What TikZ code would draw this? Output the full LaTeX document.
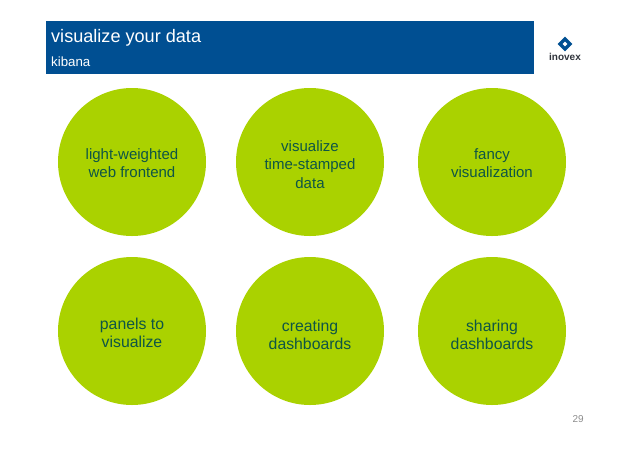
\documentclass[tikz,border=0pt]{standalone}
\usepackage{fontspec}
\setmainfont{Liberation Sans}
\usetikzlibrary{shapes.geometric}
\definecolor{bannerblue}{HTML}{004F92}
\definecolor{bubblegreen}{HTML}{AAD200}
\definecolor{bubbleink}{HTML}{0E5546}
\definecolor{pagegray}{HTML}{8C8C8C}
\definecolor{logoink}{HTML}{30343C}
\begin{document}
\begin{tikzpicture}
  [x=1pt,y=-1pt,
   bubble/.style={circle,fill=bubblegreen,minimum size=148pt,inner sep=0pt},
   bubbletext/.style={inner sep=0pt,align=center,text=bubbleink,font=\fontsize{15}{18.2}\selectfont},
   bubbletextlow/.style={bubbletext,font=\fontsize{15.8}{18.4}\selectfont}]
  \useasboundingbox (0,0) rectangle (638,451);

  \node[fill=bannerblue,minimum width=488pt,minimum height=53pt,inner sep=0pt] (banner) at (290,47.5) {};
  \node[anchor=base west,inner sep=0pt,text=white,font=\fontsize{18.1}{20}\selectfont] (title) at (51,42) {visualize your data};
  \node[anchor=base west,inner sep=0pt,text=white,font=\fontsize{13.3}{15}\selectfont] (subtitle) at (51,66) {kibana};

  \node[diamond,fill=bannerblue,minimum size=15pt,inner sep=0pt] (logo) at (565,44) {};
  \node[diamond,fill=white,minimum size=5pt,inner sep=0pt] (logohole) at (565,44) {};
  \node[anchor=base,inner sep=0pt,text=logoink,font=\bfseries\fontsize{10}{12}\selectfont] (logotext) at (565,60) {inovex};

  \node[bubble] (b1) at (132,162) {};
  \node[bubble] (b2) at (310,162) {};
  \node[bubble] (b3) at (492,162) {};
  \node[bubble] (b4) at (132,331) {};
  \node[bubble] (b5) at (310,331) {};
  \node[bubble] (b6) at (492,331) {};

  \node[bubbletext] (t1) at (132,163.5) {light-weighted\\web frontend};
  \node[bubbletext] (t2) at (310,164.5) {visualize\\time-stamped\\data};
  \node[bubbletext] (t3) at (492,163.5) {fancy\\visualization};
  \node[bubbletextlow] (t4) at (132,333) {panels to\\visualize};
  \node[bubbletextlow] (t5) at (310,335) {creating\\dashboards};
  \node[bubbletextlow] (t6) at (492,335) {sharing\\dashboards};

  \node[anchor=base east,inner sep=0pt,text=pagegray,font=\fontsize{10}{12}\selectfont] (pagenum) at (584,422) {29};
\end{tikzpicture}
\end{document}
